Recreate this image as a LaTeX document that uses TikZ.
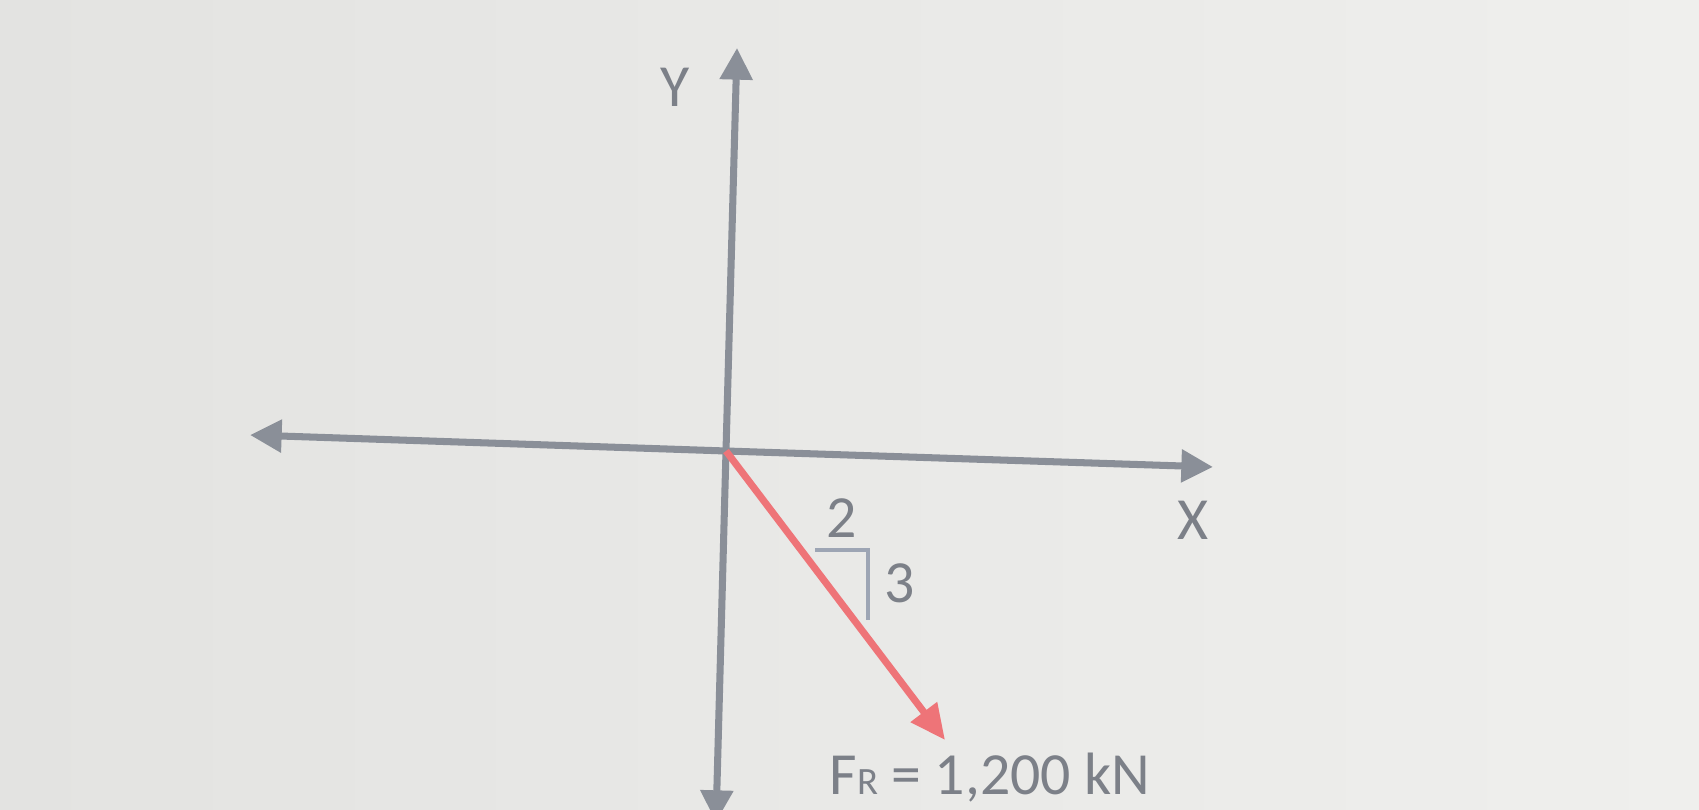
\documentclass[tikz,border=0pt]{standalone}
\usepackage{fontspec}
\setmainfont{Carlito}
\usepackage{xcolor}
\usepackage{tikz}
\usetikzlibrary{positioning,arrows.meta}

\definecolor{paperleft}{HTML}{E3E3E1}
\definecolor{paperright}{HTML}{EFEFED}
\definecolor{axisgray}{HTML}{8A8F98}
\definecolor{forcered}{HTML}{EE7478}
\definecolor{markgray}{HTML}{9DA5B4}
\definecolor{labelgray}{HTML}{7C8088}

\tikzset{
	axis/.style={color=axisgray, line width=2pt, -{Triangle[length=9pt,width=9pt]}},
	force/.style={color=forcered, line width=2pt, -{Triangle[length=10pt,width=9pt]}},
	slopemark/.style={draw=markgray, line width=1pt},
	lbl/.style={text=labelgray, font=\fontsize{17}{20}\selectfont, inner sep=0pt}
}

\begin{document}
\begin{tikzpicture}[x=0.01cm,y=-0.01cm]
	\shade[left color=paperleft, right color=paperright] (0,0) rectangle (1699,810);
	\useasboundingbox (0,0) rectangle (1699,810);

	\coordinate (origin) at (726,451);
	\coordinate (xleft) at (250,435);
	\coordinate (xright) at (1213,467);
	\coordinate (ytop) at (737,48);
	\coordinate (ybottom) at (716,822);
	\coordinate (forcetip) at (945,740);

	\path (origin) edge[axis] (xright);
	\path (origin) edge[axis] (xleft);
	\path (origin) edge[axis] (ytop);
	\path (origin) edge[axis] (ybottom);
	\path (origin) edge[force] (forcetip);

	\coordinate (markstart) at (815,550);
	\coordinate (markcorner) at (868,550);
	\coordinate (markend) at (868,620);
	\draw[slopemark] (markstart) -- (markcorner) -- (markend);

	\node[lbl] (ylabel) at (675,87) {Y};
	\node[lbl] (xlabel) at (1193,520) {X};
	\node[lbl] (run) at (842,518) {2};
	\node[lbl] (rise) at (900,583) {3};
	\node[lbl] (forcelabel) at (990,778) {F{\fontsize{11}{13}\selectfont R} = 1,200 kN};
\end{tikzpicture}
\end{document}
